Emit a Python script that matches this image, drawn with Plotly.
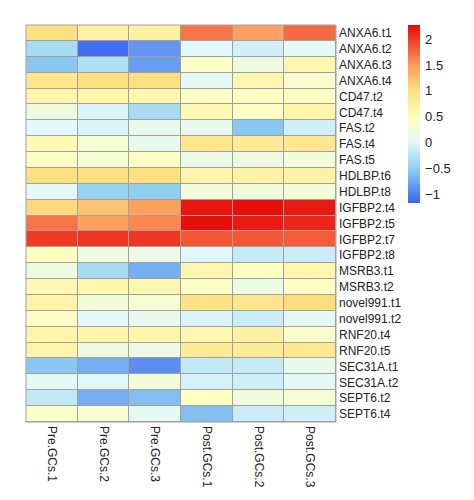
import plotly.graph_objects as go

rows = ["ANXA6.t1", "ANXA6.t2", "ANXA6.t3", "ANXA6.t4", "CD47.t2", "CD47.t4",
        "FAS.t2", "FAS.t4", "FAS.t5", "HDLBP.t6", "HDLBP.t8", "IGFBP2.t4",
        "IGFBP2.t5", "IGFBP2.t7", "IGFBP2.t8", "MSRB3.t1", "MSRB3.t2",
        "novel991.t1", "novel991.t2", "RNF20.t4", "RNF20.t5", "SEC31A.t1",
        "SEC31A.t2", "SEPT6.t2", "SEPT6.t4"]
cols = ["Pre.GCs.1", "Pre.GCs.2", "Pre.GCs.3", "Post.GCs.1", "Post.GCs.2", "Post.GCs.3"]

values = [
    [1.00, 0.70, 0.70, 1.70, 1.45, 1.75],
    [-0.35, -1.10, -0.85, 0.00, -0.10, 0.05],
    [-0.55, -0.30, -0.80, 0.40, 0.20, 0.60],
    [0.90, 1.00, 1.00, 0.05, 0.60, 0.35],
    [0.65, 0.65, 0.60, 0.40, 0.45, 0.45],
    [0.20, -0.05, -0.35, 0.55, 0.40, 0.65],
    [0.00, -0.05, 0.10, 0.10, -0.55, -0.10],
    [0.55, 0.30, 0.10, 0.90, 0.80, 0.85],
    [0.40, 0.30, 0.40, 0.15, 0.20, 0.25],
    [1.00, 1.00, 0.98, 0.65, 0.70, 0.70],
    [0.00, -0.45, -0.50, 0.25, 0.22, 0.28],
    [1.05, 1.20, 1.45, 2.20, 2.25, 2.18],
    [1.70, 1.45, 1.60, 2.25, 2.18, 2.12],
    [2.00, 2.02, 2.02, 1.85, 1.85, 1.83],
    [0.45, 0.20, 0.15, -0.02, -0.18, -0.15],
    [0.20, -0.35, -0.70, 0.60, 0.45, 0.60],
    [0.55, 0.60, 0.60, 0.40, 0.18, 0.40],
    [0.65, 0.25, 0.30, 0.95, 0.90, 1.02],
    [0.40, 0.00, 0.10, -0.05, -0.15, 0.05],
    [0.65, 0.65, 0.65, 0.60, 0.70, 0.35],
    [0.65, 0.20, 0.15, 0.82, 0.82, 0.85],
    [-0.55, -0.70, -0.90, -0.20, -0.18, 0.10],
    [0.05, -0.02, 0.25, -0.08, -0.12, 0.05],
    [-0.20, -0.70, -0.60, 0.45, 0.25, 0.30],
    [0.38, 0.35, 0.05, -0.60, -0.15, -0.12],
]

zmin, zmax = -1.16, 2.27
stops = [(-1.16, "#3b63f2"), (-0.5, "#8fd0f0"), (0.0, "#e2f8fa"), (0.45, "#ffffc0"),
         (1.0, "#ffe080"), (1.5, "#fe9a5c"), (2.0, "#f03a25"), (2.27, "#e60a0a")]
colorscale = [[(v - zmin) / (zmax - zmin), c] for v, c in stops]

W, H = 474, 500
L, R, T, B = 26, 138, 25, 73
pw = W - L - R

fig = go.Figure(go.Heatmap(
    z=values, x=cols, y=rows, zmin=zmin, zmax=zmax, colorscale=colorscale,
    xgap=1, ygap=1,
    colorbar=dict(
        thickness=12, lenmode="pixels", len=178, yanchor="top", y=1,
        xanchor="left", x=(408 - L) / pw, xpad=0, ypad=0, outlinewidth=0,
        tickvals=[-1, -0.5, 0, 0.5, 1, 1.5, 2],
        ticktext=["\u22121", "\u22120.5", "0", "0.5", "1", "1.5", "2"],
        ticks="outside", ticklen=3, tickcolor="rgba(0,0,0,0)",
        tickfont=dict(family="Liberation Sans, Arial", size=13, color="#222"),
    ),
))

fig.update_layout(
    width=W, height=H, margin=dict(l=L, r=R, t=T, b=B),
    paper_bgcolor="white", plot_bgcolor="#a0a0a0",
    font=dict(family="Liberation Sans, Arial", size=12, color="#222"),
    xaxis=dict(tickangle=90, ticks="", showgrid=False, zeroline=False,
               tickfont=dict(size=12), ticklabelstandoff=3),
    yaxis=dict(side="right", autorange="reversed", ticks="", showgrid=False,
               zeroline=False, tickfont=dict(size=12), ticklabelstandoff=2),
    shapes=[dict(type="rect", xref="paper", yref="paper", x0=0, x1=1, y0=0, y1=1,
                 line=dict(color="#a0a0a0", width=1))],
)

fig.write_html("out.html")
